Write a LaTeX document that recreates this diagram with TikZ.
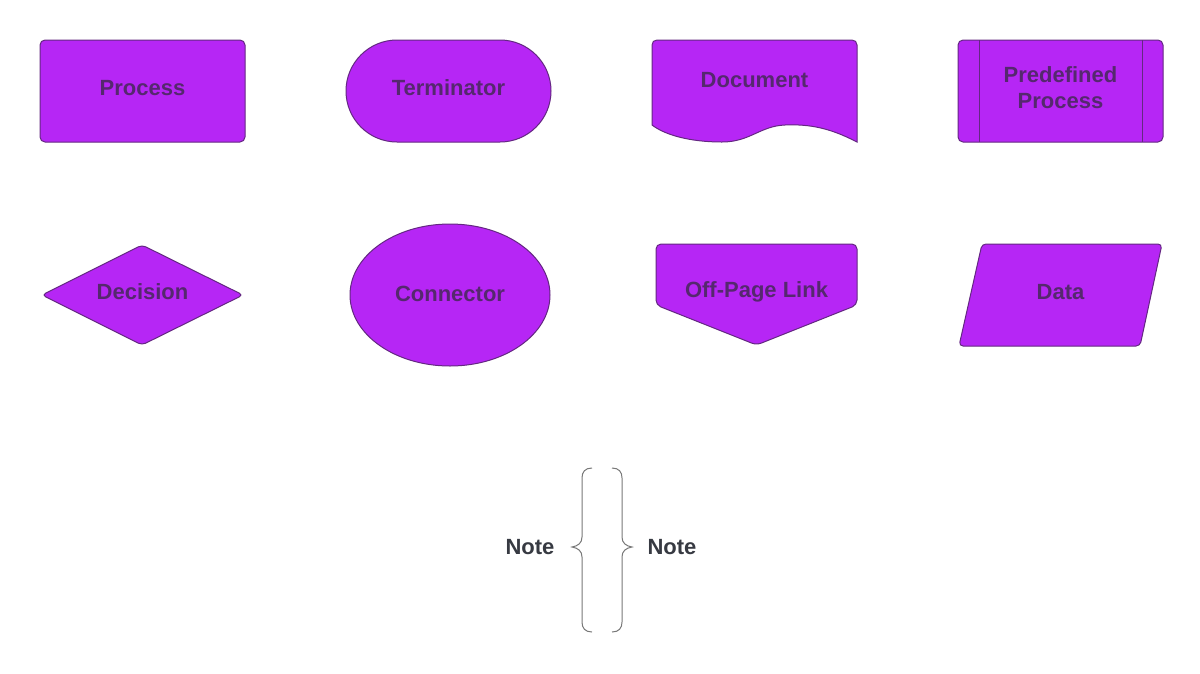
\documentclass[tikz,border=0pt]{standalone}
\usepackage{fontspec}
\setmainfont{Liberation Sans}
\usetikzlibrary{shapes.geometric}
\definecolor{shapefill}{RGB}{182,38,245}
\definecolor{shapeline}{RGB}{100,40,130}
\definecolor{shapetext}{RGB}{85,40,110}
\definecolor{notetext}{RGB}{55,58,66}
\definecolor{bracecol}{RGB}{120,120,120}
\begin{document}
\begin{tikzpicture}[x=1pt,y=-1pt,
  shp/.style={fill=shapefill,draw=shapeline,line width=1pt},
  lbl/.style={text=shapetext,font=\fontsize{22}{26}\selectfont\bfseries,align=center},
  notelbl/.style={text=notetext,font=\fontsize{22}{26}\selectfont\bfseries},
  bracestyle/.style={draw=bracecol,line width=1pt}]
\useasboundingbox (0,0) rectangle (1200,673);
\fill[white] (0,0) rectangle (1200,673);
% Process
\draw[shp,rounded corners=5pt] (40,40) rectangle (245,142);
\node[lbl] (process) at (142.5,88) {Process};
% Terminator
\draw[shp,rounded corners=51pt] (346,40) rectangle (551,142);
\node[lbl] (term) at (448.5,88) {Terminator};
% Document
\draw[shp] (652,125) -- (652,45) .. controls (652,42) and (654,40) .. (657,40) -- (852,40)
  .. controls (855,40) and (857,42) .. (857,45) -- (857,142)
  .. controls (830,128) and (810,124) .. (785,125)
  .. controls (760,126) and (750,142) .. (722,142)
  .. controls (690,142) and (665,135) .. (652,125) -- cycle;
\node[lbl] (doc) at (754.5,80) {Document};
% Predefined Process
\draw[shp,rounded corners=5pt] (958,40) rectangle (1163,142);
\draw[shapeline,line width=1pt] (979,40) -- (979,142) (1142,40) -- (1142,142);
\node[lbl] (pre) at (1060.5,88) {Predefined\\Process};
% Decision
\draw[shp,rounded corners=4pt] (142,245) -- (243,295) -- (142,345) -- (42,295) -- cycle;
\node[lbl] (dec) at (142.5,292) {Decision};
% Connector
\draw[shp] (450,295) ellipse[x radius=100,y radius=71];
\node[lbl] (conn) at (450,294) {Connector};
% Off-page link
\draw[shp,rounded corners=5pt] (656,305) -- (656,244) -- (857,244) -- (857,305) -- (756.5,345) -- cycle;
\node[lbl] (off) at (756.5,292) {Off-Page Link};
% Data
\draw[shp,rounded corners=4pt] (982,244) -- (1162,244) -- (1140,346) -- (959,346) -- cycle;
\node[lbl] (data) at (1060.5,292) {Data};
% Notes
\node[notelbl] (note1) at (530,547) {Note};
\node[notelbl] (note2) at (672,547) {Note};
\draw[bracestyle] (592,468) .. controls (585,468) and (582,472) .. (582,478) -- (582,537)
  .. controls (582,543) and (578,546) .. (572,547)
  .. controls (578,548) and (582,551) .. (582,557) -- (582,622)
  .. controls (582,628) and (585,632) .. (592,632);
\draw[bracestyle] (612,468) .. controls (619,468) and (622,472) .. (622,478) -- (622,537)
  .. controls (622,543) and (626,546) .. (632,547)
  .. controls (626,548) and (622,551) .. (622,557) -- (622,622)
  .. controls (622,628) and (619,632) .. (612,632);
\end{tikzpicture}
\end{document}
